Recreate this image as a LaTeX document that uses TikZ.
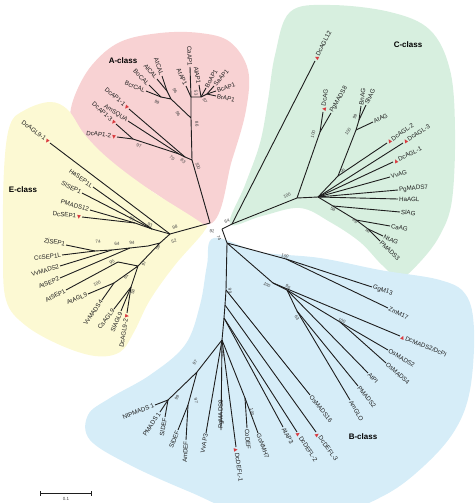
\documentclass[tikz,border=0pt]{standalone}
\usepackage{fontspec}
\setmainfont{Liberation Sans}
\newfontfamily\dejavu{DejaVu Sans}
\definecolor{pinkA}{HTML}{F8D2D3}
\definecolor{greenC}{HTML}{D7EFDF}
\definecolor{yelE}{HTML}{FCF9D3}
\definecolor{blueB}{HTML}{D6EDF8}
\definecolor{tri}{HTML}{D9393E}
\definecolor{ink}{HTML}{1E1E1E}
\tikzset{
 br/.style={line width=0.9pt, draw=ink},
 lab/.style={font=\fontsize{6.2}{7}\selectfont, inner sep=0.7pt, text=ink},
 bs/.style={font=\fontsize{4.5}{5}\selectfont, inner sep=0pt, text=ink!85},
 cls/.style={font=\fontsize{8}{9}\selectfont\bfseries, text=black},
}
\newcommand\tU{\textcolor{tri}{\dejavu\fontsize{5}{5}\selectfont ▲}}
\newcommand\tD{\textcolor{tri}{\dejavu\fontsize{5}{5}\selectfont ▼}}
\newcommand\lfR[4]{\coordinate (#2) at (#3); \draw[br] (#1) -- (#2) node[lab, pos=1, sloped, anchor=west]{#4};}
\newcommand\lfL[4]{\coordinate (#2) at (#3); \draw[br] (#2) -- (#1) node[lab, pos=0, sloped, anchor=east]{#4};}
\newcommand\bsl[3]{\node[bs, rotate=#2] at (#1) {#3};}
\begin{document}
\begin{tikzpicture}[x=1pt,y=-1pt]
\useasboundingbox (0,0) rectangle (474,503);
\begin{scope}
\clip (0,0) rectangle (474,503);
\fill[pinkA] plot[smooth cycle, tension=0.6] coordinates {(210,224) (150,190) (100,162) (76,145) (70,120) (75,95) (92,65) (120,42) (160,33) (200,33) (230,42) (248,70) (246,110) (232,160)};
\fill[greenC] plot[smooth cycle, tension=0.6] coordinates {(230,224) (245,185) (260,143) (268,100) (275,55) (290,12) (330,5) (390,12) (430,30) (450,70) (455,130) (452,200) (440,235) (420,262) (400,278) (382,265) (360,242) (330,222) (300,208) (262,216)};
\fill[yelE] plot[smooth cycle, tension=0.6] coordinates {(205,230) (175,265) (150,300) (134,332) (120,352) (95,356) (60,345) (25,325) (6,300) (3,250) (4,170) (10,125) (25,110) (50,102) (68,110) (85,135) (110,160) (150,190) (200,222)};
\fill[blueB] plot[smooth cycle, tension=0.6] coordinates {(214,238) (260,252) (320,258) (380,270) (440,280) (466,295) (474,330) (470,390) (455,430) (425,465) (385,495) (330,515) (250,515) (190,492) (130,465) (90,440) (88,415) (110,398) (150,375) (185,345) (200,305) (207,265)};
\end{scope}
% root
\coordinate (R1) at (210,223);
\coordinate (R2) at (222,229);
% ---------- A-class
\coordinate (A1) at (192,160);
\coordinate (A4) at (185,157);
\coordinate (A2) at (179,154);
\coordinate (A3) at (133,139);
\coordinate (A5) at (191,118);
\coordinate (A6) at (171,99);
\coordinate (A6a) at (167,91);
\coordinate (A6b) at (161,97);
\coordinate (A7) at (191,97);
\coordinate (A9) at (201,97);
\coordinate (A10) at (207,94);
\draw[br] (R1)--(A1) (A1)--(A4) (A4)--(A2) (A2)--(A3) (A1)--(A5) (A5)--(A6) (A6)--(A6a) (A6)--(A6b) (A5)--(A7) (A7)--(A9) (A9)--(A10);
\lfL{A3}{a1}{117,137}{DcAP1-2\,\tD}
\lfL{A3}{a2}{116,124}{DcAP1-3\,\tD}
\lfL{A2}{a3}{128,121}{AmSQUA}
\lfL{A4}{a4}{129,109}{DcAP1-1\,\tD}
\lfL{A6b}{a5}{146,91}{BcrCAL}
\lfL{A6b}{a6}{149,85}{BoCAL}
\lfL{A6a}{a7}{157,79}{AlCAL}
\lfL{A6a}{a8}{162,76}{AtCAL}
\lfL{A7}{a9}{186,86}{AtAP1}
\lfL{A7}{a10}{190,67}{CaAP1}
\lfL{A9}{a11}{199,85}{AlAP1}
\lfR{A9}{a12}{206,88}{BoAP1}
\lfR{A10}{a13}{214,86}{SaAP1}
\lfR{A10}{a14}{216,91}{BcAP1}
\lfR{A10}{a15}{216,96}{BrAP1}
% ---------- E-class
\coordinate (E0) at (170,234);
\coordinate (E1) at (152,229);
\coordinate (E2) at (135,223);
\coordinate (E4) at (160,243);
\coordinate (E5) at (148,246);
\coordinate (E5a) at (130,248);
\coordinate (E5b) at (112,250);
\coordinate (E5c) at (95,251);
\coordinate (E6) at (138,266);
\coordinate (E7) at (131,287);
\coordinate (E8) at (114,283);
\coordinate (E9) at (118,262);
\draw[br] (R1)--(E0) (E0)--(E1) (E1)--(E2) (E0)--(E4) (E4)--(E5) (E5)--(E5a) (E5a)--(E5b) (E5b)--(E5c) (E4)--(E6) (E6)--(E7) (E6)--(E8) (E6)--(E9);
\lfL{E0}{e1}{50,143}{DcAGL9-1\,\tD}
\lfL{E1}{e2}{93,187}{HaSEP1L}
\lfL{E1}{e3}{82,193}{SlSEP1}
\lfL{E2}{e4}{90,210}{PMADS12}
\lfL{E2}{e5}{82,217}{DcSEP1\,\tD}
\lfL{E5c}{e6}{66,245}{ZjSEP1}
\lfL{E5c}{e7}{62,255}{CcSEP1L}
\lfL{E5b}{e8}{60,266}{VvMADS2}
\lfL{E5a}{e9}{60,278}{AtSEP2}
\lfL{E9}{e10}{66,290}{AtSEP1}
\lfL{E8}{e11}{88,294}{AtAGL9}
\lfL{E8}{e12}{102,300}{VvMADS4}
\lfL{E7}{e13}{114,309}{CsAGL9}
\lfL{E7}{e14}{121,311}{SlAGL9}
\lfL{E7}{e15}{127,313}{DcAGL9-2\,\tD}
% ---------- C-class
\coordinate (C0) at (232,224);
\coordinate (C1) at (297,198);
\coordinate (C2) at (320,132);
\coordinate (C3) at (318,197);
\coordinate (C4) at (338,176);
\coordinate (C6) at (356,130);
\coordinate (C7) at (359,120);
\coordinate (C5) at (333,206);
\coordinate (C8) at (356,220);
\coordinate (C9) at (368,229);
\draw[br] (R2)--(C0) (C0)--(C1) (C1)--(C2) (C1)--(C3) (C3)--(C4) (C4)--(C6) (C6)--(C7) (C3)--(C5) (C5)--(C8) (C8)--(C9);
\lfR{C0}{c1}{315,61}{\tU\,DcAGL12}
\lfR{C2}{c2}{323,112}{\tU\,DcAG}
\lfR{C2}{c3}{331,113}{PgMADS8}
\lfR{C7}{c4}{361,106}{BnAG}
\lfR{C7}{c5}{366,105}{ShAG}
\lfR{C6}{c6}{373,122}{AtAG}
\lfR{C4}{c7}{387,143}{\tU\,DcAGL-2}
\lfR{C3}{c8}{403,143}{\tU\,DcAGL-3}
\lfR{C3}{c9}{393,162}{\tU\,DcAGL-1}
\lfR{C3}{c10}{390,177}{VvAG}
\lfR{C3}{c11}{398,190}{PgMADS7}
\lfR{C3}{c12}{398,199}{HaAGL}
\lfR{C5}{c13}{400,212}{SlAG}
\lfR{C8}{c14}{390,226}{CaAG}
\lfR{C9}{c15}{383,236}{NtAG}
\lfR{C9}{c16}{380,241}{PMADS3}
% ---------- B-class
\coordinate (B0) at (227,243);
\coordinate (G) at (286,259);
\coordinate (P1) at (273,283);
\coordinate (P2) at (287,290);
\coordinate (O) at (340,322);
\coordinate (P3) at (297,311);
\coordinate (B1) at (226,290);
\coordinate (B2) at (225,305);
\coordinate (B3) at (224,318);
\coordinate (B4) at (222,340);
\coordinate (Cd) at (245,398);
\coordinate (B5) at (197,372);
\coordinate (B6) at (188,405);
\coordinate (B7) at (168,400);
\draw[br] (R2)--(B0) (B0)--(G) (B0)--(P1) (P1)--(P2) (P2)--(O) (P2)--(P3) (B0)--(B1) (B1)--(B2) (B2)--(B3) (B3)--(B4) (B4)--(Cd) (B4)--(B5) (B5)--(B6) (B5)--(B7);
\lfR{G}{b1}{372,287}{GgM13}
\lfR{G}{b2}{388,308}{ZmM17}
\lfR{P1}{b3}{400,336}{\tU\,DcMADS2/DcPI}
\lfR{O}{b4}{388,350}{OsMADS2}
\lfR{O}{b5}{386,363}{OsMADS4}
\lfR{P2}{b6}{368,373}{AtPI}
\lfR{P3}{b7}{358,386}{PMADS2}
\lfR{P3}{b8}{350,400}{AmGLO}
\lfR{B1}{b9}{310,395}{OsMADS16}
\lfR{B2}{b10}{316,432}{\tU\,DcDEFL-3}
\lfR{B3}{b11}{297,432}{\tU\,DcDEFL-2}
\lfR{B3}{b12}{283,427}{AtAP3}
\lfR{Cd}{b13}{247,428}{CoDEF}
\lfR{Cd}{b14}{258,433}{GoNMH7}
\lfR{B4}{b15}{236,447}{\tU\,DcDEFL-1}
\lfR{B4}{b16}{221,430}{PgMADS9}
\lfL{B4}{b17}{206,433}{VvAP3}
\lfL{B6}{b18}{186,440}{AmDEF}
\lfL{B6}{b19}{178,430}{SlDEF}
\lfL{B7}{b20}{165,417}{SlDEF}
\lfL{B7}{b21}{160,412}{PMADS 1}
\lfL{B7}{b22}{155,405}{NtPMADS 1}
% ---------- bootstrap values
\bsl{139,146}{-15}{97} \bsl{172,158}{-40}{70} \bsl{183,161}{-40}{83} \bsl{198,166}{-70}{100}
\bsl{197,124}{-85}{86} \bsl{178,114}{-60}{96} \bsl{157,102}{-30}{99} \bsl{175,91}{-60}{96}
\bsl{196,93}{-80}{53} \bsl{205,101}{-60}{97}
\bsl{212,231}{-10}{91} \bsl{219,238}{-70}{74} \bsl{227,221}{20}{64}
\bsl{175,227}{15}{98} \bsl{174,241}{15}{52} \bsl{132,219}{-20}{90} \bsl{150,225}{-20}{93}
\bsl{158,248}{60}{59} \bsl{98,242}{10}{74} \bsl{117,244}{5}{64} \bsl{132,243}{5}{94}
\bsl{112,262}{30}{95} \bsl{144,264}{65}{97} \bsl{126,277}{60}{61} \bsl{97,284}{25}{100} \bsl{133,292}{75}{58}
\bsl{287,196}{25}{100} \bsl{313,134}{75}{100} \bsl{343,171}{35}{95} \bsl{348,132}{55}{100} \bsl{355,117}{65}{99}
\bsl{333,209}{-30}{58} \bsl{355,221}{-40}{86} \bsl{368,231}{-50}{93}
\bsl{285,256}{-20}{100} \bsl{267,285}{-35}{100} \bsl{288,287}{-35}{96} \bsl{297,318}{-60}{63} \bsl{342,321}{-30}{100}
\bsl{230,291}{-80}{99} \bsl{223,354}{-85}{69} \bsl{195,363}{55}{97} \bsl{177,398}{60}{99} \bsl{196,401}{-75}{97} \bsl{252,412}{-80}{100}
% ---------- class labels
\node[cls] (la) at (123,61) {A-class};
\node[cls] (lc) at (408,45) {C-class};
\node[cls] (le) at (23,190) {E-class};
\node[cls] (lb) at (363,437) {B-class};
% ---------- scale bar
\coordinate (s1) at (40,493);
\coordinate (s2) at (91,493);
\draw[line width=0.8pt, draw=ink] (s1) -- (s2);
\draw[line width=0.8pt, draw=ink] ([yshift=-2.5pt]s1) -- ([yshift=2.5pt]s1) ([yshift=-2.5pt]s2) -- ([yshift=2.5pt]s2);
\node[bs] (sl) at (66,499) {0.1};
\end{tikzpicture}
\end{document}
